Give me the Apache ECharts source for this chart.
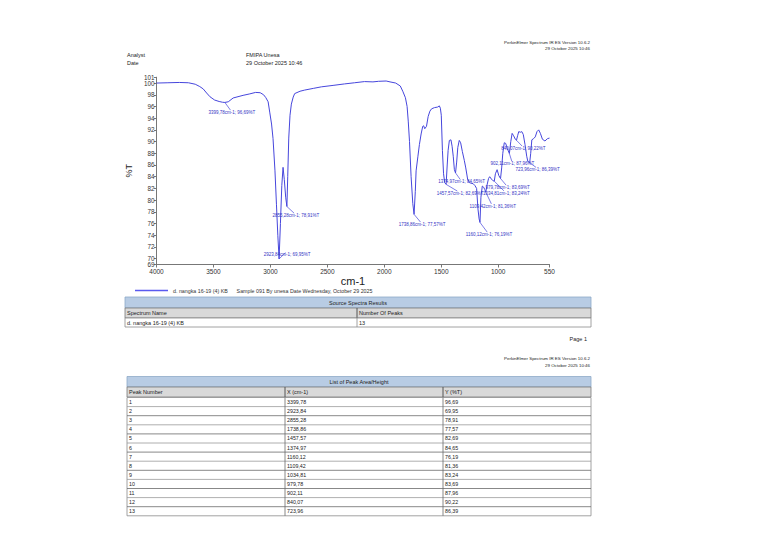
<!DOCTYPE html>
<html>
<head>
<meta charset="utf-8">
<script src="https://cdn.jsdelivr.net/npm/echarts@6/dist/echarts.min.js"></script>
<style>
html,body{margin:0;padding:0;background:#fff;}
#chart{width:768px;height:543px;}
</style>
</head>
<body>
<div id="chart"></div>
<script>
// ---------- DATA ----------
const seriesName = 'd. nangka 16-19 (4) KB';
const sampleInfo = 'Sample 091 By unesa Date Wednesday, October 29 2025';

// spectrum: [wavenumber cm-1, %T]
const spectrum = [
 [4000,100.0],[3900,100.05],[3800,100.1],[3720,100.05],[3660,99.8],[3620,99.4],[3590,99.0],[3560,98.3],
 [3530,97.65],[3490,97.1],[3450,96.85],[3420,96.72],[3399.78,96.69],[3370,96.8],[3327,97.45],[3240,97.9],
 [3181,98.15],[3130,98.4],[3090,98.35],[3060,98.0],[3040,97.5],[3020,96.8],[3005,94.9],[2990,93.0],
 [2977,90.5],[2960,85.0],[2947,79.3],[2935,74.0],[2923.84,69.95],[2912,76.0],[2900,82.5],[2889,85.6],
 [2878,83.5],[2866,80.5],[2855.28,78.91],[2848,84.0],[2839,90.6],[2828,94.5],[2816,96.4],[2800,97.6],
 [2787,98.2],[2740,98.6],[2699,98.8],[2620,99.1],[2553,99.35],[2450,99.6],[2350,99.85],[2261,100.05],
 [2174,100.25],[2100,100.2],[2050,100.3],[1984,100.35],[1950,100.2],[1900,100.0],[1860,99.5],[1838,98.6],
 [1815,97.5],[1800,96.0],[1790,93.5],[1779,90.0],[1765,84.0],[1750,79.4],[1738.86,77.57],[1728,81.5],
 [1721,85.0],[1705,87.5],[1692,89.5],[1677,91.3],[1663,92.6],[1655,92.7],[1645,92.2],[1630,92.6],
 [1615,94.3],[1600,95.2],[1585,95.6],[1560,95.8],[1532,95.9],[1517,96.1],[1508,95.7],[1500,94.5],
 [1490,88.5],[1480,84.5],[1470,83.0],[1457.57,82.69],[1448,86.0],[1440,88.5],[1429,90.2],[1415,90.3],
 [1405,89.2],[1395,87.5],[1385,85.2],[1374.97,84.65],[1365,86.5],[1355,89.0],[1342,90.2],[1330,89.8],
 [1315,88.3],[1298,86.8],[1285,85.5],[1269,83.6],[1254,83.0],[1240,82.9],[1220,82.8],[1205,82.5],
 [1190,82.0],[1178,78.5],[1168,76.8],[1160.12,76.19],[1152,80.5],[1140,82.4],[1128,82.2],[1118,81.8],
 [1109.42,81.36],[1098,82.6],[1085,83.7],[1075,84.0],[1060,83.6],[1045,83.3],[1034.81,83.24],[1025,84.5],
 [1010,85.2],[995,84.2],[979.78,83.69],[970,85.5],[960,88.0],[947,89.8],[935,89.7],[920,88.8],
 [902.11,87.96],[890,90.0],[878,91.4],[865,91.0],[850,90.4],[840.07,90.22],[830,91.0],[820,91.7],
 [805,91.6],[793,91.7],[780,91.2],[765,89.5],[750,87.5],[740,86.6],[723.96,86.39],[715,88.0],
 [705,90.3],[690,90.5],[675,90.8],[660,91.7],[645,92.0],[630,91.4],[612,90.4],[590,90.1],[568,90.5],[550,90.6]
];

// peak list
const peakNumbers = [1,2,3,4,5,6,7,8,9,10,11,12,13];
const peakX = [3399.78,2923.84,2855.28,1738.86,1457.57,1374.97,1160.12,1109.42,1034.81,979.78,902.11,840.07,723.96];
const peakY = [96.69,69.95,78.91,77.57,82.69,84.65,76.19,81.36,83.24,83.69,87.96,90.22,86.39];

// axis tick labels
const xTicks = [4000,3500,3000,2500,2000,1500,1000,550];
const yTicks = [69,70,72,74,76,78,80,82,84,86,88,90,92,94,96,98,100,101];

// ---------- LAYOUT / STYLE ----------
const fmt = v => v.toFixed(2).replace('.', ',');
const peakLabel = i => fmt(peakX[i]) + 'cm-1; ' + fmt(peakY[i]) + '%T';
// label offsets (px) relative to each peak
const labelOffsets = [[7,10],[8,-4],[9,9],[8,10],[14,9],[6,9],[9,12],[7,14],[12,12],[7,9],[3,10],[7,8],[8,7]];

const FONT = '"Liberation Sans", Arial, sans-serif';
const lineColor = '#4646dc';

function txt(x, y, text, size, align, extra) {
  return Object.assign({
    type: 'text', x: x, y: y, silent: true,
    style: { text: text, fontSize: size, fontFamily: FONT, fill: '#222', align: align || 'left', verticalAlign: 'middle' }
  }, extra || {});
}
function rect(x, y, w, h, fill, stroke, lw) {
  return { type: 'rect', silent: true, shape: { x: x, y: y, width: w, height: h },
    style: { fill: fill, stroke: stroke || null, lineWidth: lw || 0 } };
}
function hline(x1, x2, y, color, w) {
  return { type: 'line', silent: true, shape: { x1: x1, y1: y, x2: x2, y2: y }, style: { stroke: color, lineWidth: w || 0.8 } };
}
function vline(x, y1, y2, color, w) {
  return { type: 'line', silent: true, shape: { x1: x, y1: y1, x2: x, y2: y2 }, style: { stroke: color, lineWidth: w || 0.8 } };
}

const graphics = [];
// header texts
graphics.push(txt(590, 42, 'PerkinElmer Spectrum IR ES Version 10.6.2', 4.4, 'right'));
graphics.push(txt(590, 48, '29 October 2025 10:46', 4.4, 'right'));
graphics.push(txt(127, 55, 'Analyst', 5.5));
graphics.push(txt(127, 63, 'Date', 5.5));
graphics.push(txt(246, 55, 'FMIPA Unesa', 5.5));
graphics.push(txt(246, 63, '29 October 2025 10:46', 5.5));

// Source Spectra Results table
(function () {
  const L = 125, R = 591, W = R - L, mid = 357;
  graphics.push(rect(L, 297, W, 11, '#b8cce4', '#8ea9c8', 0.8));
  graphics.push(txt((L + R) / 2, 302.5, 'Source Spectra Results', 5.5, 'center'));
  graphics.push(rect(L, 308, W, 10, '#d9d9d9', '#7a7a7a', 0.8));
  graphics.push(vline(mid, 308, 318, '#555', 1));
  graphics.push(txt(L + 2, 313, 'Spectrum Name', 5.5));
  graphics.push(txt(mid + 2, 313, 'Number Of Peaks', 5.5));
  graphics.push(rect(L, 318, W, 9, '#ffffff', '#8a8a8a', 0.8));
  graphics.push(vline(mid, 318, 327, '#8a8a8a', 0.8));
  graphics.push(txt(L + 2, 322.5, seriesName, 5.5));
  graphics.push(txt(mid + 2, 322.5, String(peakNumbers.length), 5.5));
})();

graphics.push(txt(587, 339, 'Page 1', 5.5, 'right'));
graphics.push(txt(590, 358, 'PerkinElmer Spectrum IR ES Version 10.6.2', 4.4, 'right'));
graphics.push(txt(590, 365, '29 October 2025 10:46', 4.4, 'right'));

// Peak table
(function () {
  const L = 127, R = 591, W = R - L, c1 = 285, c2 = 443;
  const top = 376.5, rowH = 9.1;
  graphics.push(rect(L, top, W, 10.5, '#b8cce4', '#8ea9c8', 0.8));
  graphics.push(txt((L + R) / 2, top + 5.3, 'List of Peak Area/Height', 5.5, 'center'));
  const hy = top + 10.5;
  graphics.push(rect(L, hy, W, 10, '#d9d9d9', '#7a7a7a', 0.8));
  graphics.push(vline(c1, hy, hy + 10, '#555', 1));
  graphics.push(vline(c2, hy, hy + 10, '#555', 1));
  graphics.push(txt(L + 2, hy + 5, 'Peak Number', 5.5));
  graphics.push(txt(c1 + 2, hy + 5, 'X (cm-1)', 5.5));
  graphics.push(txt(c2 + 2, hy + 5, 'Y (%T)', 5.5));
  const ry0 = hy + 10.5;
  graphics.push(rect(L, ry0, W, rowH * peakNumbers.length, '#ffffff', '#8a8a8a', 0.8));
  for (let i = 0; i < peakNumbers.length; i++) {
    const y = ry0 + i * rowH;
    if (i > 0) graphics.push(hline(L, R, y, i % 2 ? '#9a9a9a' : '#6a6a6a', 0.8));
    graphics.push(txt(L + 2, y + rowH / 2, String(peakNumbers[i]), 5.3));
    graphics.push(txt(c1 + 2, y + rowH / 2, fmt(peakX[i]), 5.3));
    graphics.push(txt(c2 + 2, y + rowH / 2, fmt(peakY[i]), 5.3));
  }
  graphics.push(vline(c1, ry0, ry0 + rowH * peakNumbers.length, '#6a6a6a', 0.8));
  graphics.push(vline(c2, ry0, ry0 + rowH * peakNumbers.length, '#6a6a6a', 0.8));
})();

const chart = echarts.init(document.getElementById('chart'), null, { renderer: 'svg' });
chart.setOption({
  animation: false,
  backgroundColor: '#ffffff',
  textStyle: { fontFamily: FONT },
  grid: { left: 156.5, right: 218.5, top: 77.2, bottom: 278.5 },
  xAxis: {
    type: 'value', inverse: true, min: 550, max: 4000,
    name: 'cm-1', nameLocation: 'middle', nameGap: 9,
    nameTextStyle: { fontSize: 11, color: '#222', fontFamily: FONT },
    axisLine: { show: true, lineStyle: { color: '#777', width: 1 } },
    axisTick: { show: true, length: 3, customValues: xTicks, lineStyle: { color: '#777' } },
    axisLabel: { customValues: xTicks, fontSize: 6.5, color: '#333', margin: 3, fontFamily: FONT,
      showMinLabel: true, showMaxLabel: true, hideOverlap: false,
      formatter: function (v) { return String(v); } },
    splitLine: { show: false }
  },
  yAxis: {
    type: 'value', min: 69, max: 101,
    name: '%T', nameLocation: 'middle', nameGap: 22, nameRotate: 90,
    nameTextStyle: { fontSize: 9, color: '#222', fontFamily: FONT },
    axisLine: { show: true, lineStyle: { color: '#777', width: 1 } },
    axisTick: { show: true, length: 2.5, customValues: yTicks, lineStyle: { color: '#777' } },
    axisLabel: { customValues: yTicks, fontSize: 6.3, color: '#333', margin: 2, fontFamily: FONT,
      showMinLabel: true, showMaxLabel: true, hideOverlap: false,
      formatter: function (v) { return String(v); } },
    splitLine: { show: false }
  },
  legend: {
    left: 130, top: 283, itemWidth: 33, itemHeight: 1.5, icon: 'rect', itemGap: 4,
    selectedMode: false,
    textStyle: { fontSize: 5.3, color: '#333', fontFamily: FONT },
    formatter: function (n) { return n + '      ' + sampleInfo; },
    data: [{ name: seriesName, itemStyle: { color: '#5a5af0' } }]
  },
  series: [
    {
      name: seriesName, type: 'line', data: spectrum, showSymbol: false,
      lineStyle: { color: lineColor, width: 1 }, itemStyle: { color: lineColor }, z: 2
    },
    {
      type: 'custom', coordinateSystem: 'cartesian2d', silent: true, z: 3,
      data: peakX.map((x, i) => [x, peakY[i], i]),
      encode: { x: 0, y: 1 },
      renderItem: function (params, api) {
        const p = api.coord([api.value(0), api.value(1)]);
        const i = api.value(2);
        const o = labelOffsets[i];
        return {
          type: 'group',
          children: [
            { type: 'line', shape: { x1: p[0], y1: p[1], x2: p[0] + o[0] * 0.8, y2: p[1] + o[1] - 2.3 },
              style: { stroke: lineColor, lineWidth: 0.7 } },
            { type: 'text', x: p[0] + o[0], y: p[1] + o[1],
              style: { text: peakLabel(i), fontSize: 4.5, fontFamily: FONT, fill: '#3434c4', align: 'center', verticalAlign: 'middle' } }
          ]
        };
      }
    }
  ],
  graphic: graphics
});
</script>
</body>
</html>
